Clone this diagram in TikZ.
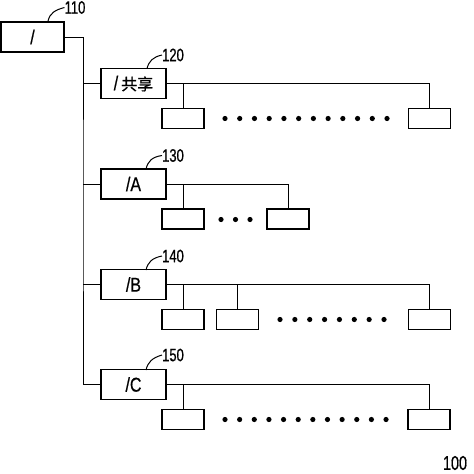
\documentclass[tikz,border=0pt]{standalone}
\usepackage{fontspec}
\setmainfont{Liberation Sans}
\newfontfamily\labfont[FakeStretch=0.72,FakeBold=0.6]{Liberation Sans}
\newfontfamily\boxfont[FakeStretch=0.8,FakeBold=0.6]{Liberation Sans}
\newfontfamily\cjk[FakeBold=0.8]{Noto Sans CJK SC}
\begin{document}
\begin{tikzpicture}[x=1pt,y=-1pt,
  dirbox/.style={draw,line width=1.3pt,minimum width=65pt,minimum height=30pt,inner sep=0pt,
    font=\boxfont\fontsize{20}{20}\selectfont},
  leafbox/.style={draw,line width=1.3pt,minimum width=42pt,minimum height=20pt,inner sep=0pt},
  reflab/.style={font=\labfont\fontsize{18}{18}\selectfont,inner sep=0pt},
  conn/.style={line width=1pt},
  leader/.style={line width=1pt},
  dotmark/.style={fill=black}]
\useasboundingbox (0,0) rectangle (474,474);

% directory boxes
\node[dirbox,minimum width=63pt] (b110) at (32.5,37) {/};
\node[dirbox] (b120) at (133.5,83.5) {/\hspace{3pt}{\cjk\fontsize{16}{16}\selectfont 共享}};
\node[dirbox] (b130) at (133.5,184) {/A};
\node[dirbox] (b140) at (133.5,284.5) {/B};
\node[dirbox] (b150) at (133.5,384.5) {/C};

% reference labels
\node[reflab] (l110) at (75,7.5) {110};
\node[reflab] (l120) at (173,55) {120};
\node[reflab] (l130) at (173,155.5) {130};
\node[reflab] (l140) at (173,256) {140};
\node[reflab] (l150) at (173,355) {150};
\node[font=\labfont\fontsize{20}{20}\selectfont,inner sep=0pt] (l100) at (455,463) {100};

\draw[leader] (48,21) .. controls (50,13) and (55,10) .. (l110.west);
\draw[leader] (147,68.5) .. controls (149,61) and (153,57) .. (l120.west);
\draw[leader] (146,169) .. controls (148,161) and (152,157) .. (l130.west);
\draw[leader] (146,270) .. controls (148,262) and (152,258) .. (l140.west);
\draw[leader] (146,370) .. controls (148,362) and (152,358) .. (l150.west);

% leaf boxes
\node[leafbox] (a1) at (183,118.5) {};
\node[leafbox] (aR) at (429.5,118.5) {};
\node[leafbox] (c1) at (183,219) {};
\node[leafbox] (cR) at (288,219) {};
\node[leafbox] (d1) at (183,319.5) {};
\node[leafbox] (d2) at (237.5,319.5) {};
\node[leafbox] (dR) at (429.5,319.5) {};
\node[leafbox] (e1) at (183,419.5) {};
\node[leafbox] (eR) at (429,419.5) {};

% trunk
\coordinate (trk) at (83,200);
\draw[conn] (b110.east) -| (trk) |- (b150.west);
\draw[conn] (b120.west) -- (b120.west -| trk);
\draw[conn] (b130.west) -- (b130.west -| trk);
\draw[conn] (b140.west) -- (b140.west -| trk);

% branches
\draw[conn] (b120.east) -| (aR.north);
\draw[conn] (a1.north) -- (a1.north |- b120.east);
\draw[conn] (b130.east) -| (cR.north);
\draw[conn] (c1.north) -- (c1.north |- b130.east);
\draw[conn] (b140.east) -| (dR.north);
\draw[conn] (d1.north) -- (d1.north |- b140.east);
\draw[conn] (d2.north) -- (d2.north |- b140.east);
\draw[conn] (b150.east) -| (eR.north);
\draw[conn] (e1.north) -- (e1.north |- b150.east);

% ellipsis dots
\foreach \i in {0,...,11} \fill[dotmark] (225+\i*14.73,118.5) circle (2.6);
\foreach \i in {0,...,2} \fill[dotmark] (221+\i*14.5,219.5) circle (2.6);
\foreach \i in {0,...,7} \fill[dotmark] (280+\i*14.86,319.5) circle (2.6);
\foreach \i in {0,...,11} \fill[dotmark] (225+\i*14.64,419.5) circle (2.6);
\end{tikzpicture}
\end{document}
